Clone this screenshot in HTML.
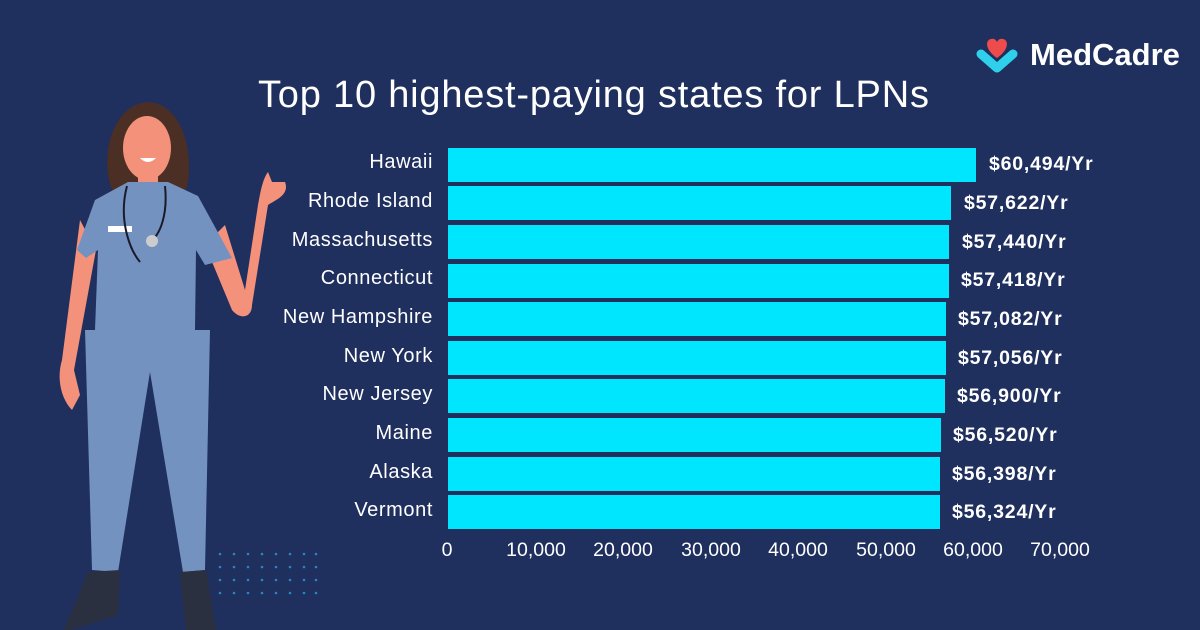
<!DOCTYPE html>
<html><head><meta charset="utf-8"><style>
html,body{margin:0;padding:0}
body{width:1200px;height:630px;background:#1f2f5e;position:relative;overflow:hidden;font-family:"Liberation Sans",sans-serif;color:#fff}
.t{position:absolute;white-space:nowrap}
.lab{position:absolute;right:767px;font-size:20px;letter-spacing:0.6px;text-align:right;white-space:nowrap}
.bar{position:absolute;left:448px;height:34px;background:#00e6ff}
.val{position:absolute;font-size:19.5px;letter-spacing:0.8px;font-weight:bold;white-space:nowrap}
.tick{position:absolute;top:539px;font-size:19.5px;transform:translateX(-50%)}
</style></head><body>
<div class="t" style="left:258px;top:74px;font-size:38px;letter-spacing:0.8px;">Top 10 highest-paying states for LPNs</div>
<svg style="position:absolute;left:975px;top:36px" width="50" height="40" viewBox="0 0 50 40">
<path d="M6 18 L22 32 L38 18" stroke="#2fd0ec" stroke-width="9" fill="none" stroke-linecap="round" stroke-linejoin="round"/>
<path d="M22 22 C10 14 10 4 16 3 C19 2 21 4 22 6 C23 4 25 2 28 3 C34 4 34 14 22 22Z" fill="#ee4c4c"/>
</svg>
<div class="t" style="left:1030px;top:37px;font-size:31px;font-weight:bold;">MedCadre</div>

<svg style="position:absolute;left:0;top:0" width="340" height="630">
<g fill="#2a86c0">
<circle cx="220" cy="554" r="1.3"/><circle cx="234" cy="554" r="1.3"/><circle cx="248" cy="554" r="1.3"/><circle cx="262" cy="554" r="1.3"/><circle cx="276" cy="554" r="1.3"/><circle cx="290" cy="554" r="1.3"/><circle cx="304" cy="554" r="1.3"/><circle cx="316" cy="554" r="1.3"/>
<circle cx="220" cy="567" r="1.3"/><circle cx="234" cy="567" r="1.3"/><circle cx="248" cy="567" r="1.3"/><circle cx="262" cy="567" r="1.3"/><circle cx="276" cy="567" r="1.3"/><circle cx="290" cy="567" r="1.3"/><circle cx="304" cy="567" r="1.3"/><circle cx="316" cy="567" r="1.3"/>
<circle cx="220" cy="580" r="1.3"/><circle cx="234" cy="580" r="1.3"/><circle cx="248" cy="580" r="1.3"/><circle cx="262" cy="580" r="1.3"/><circle cx="276" cy="580" r="1.3"/><circle cx="290" cy="580" r="1.3"/><circle cx="304" cy="580" r="1.3"/><circle cx="316" cy="580" r="1.3"/>
<circle cx="220" cy="593" r="1.3"/><circle cx="234" cy="593" r="1.3"/><circle cx="248" cy="593" r="1.3"/><circle cx="262" cy="593" r="1.3"/><circle cx="276" cy="593" r="1.3"/><circle cx="290" cy="593" r="1.3"/><circle cx="304" cy="593" r="1.3"/><circle cx="316" cy="593" r="1.3"/>
</g>
<path d="M112 190 C100 160 110 105 148 102 C185 104 195 160 186 190 Z" fill="#4b2f24"/>
<path d="M80 220 L62 360 C56 380 62 400 72 410 L80 395 L74 370 L96 250 Z" fill="#f3917a"/>
<path d="M205 245 L232 310 C240 320 252 318 252 305 L268 205 C275 200 290 195 285 182 L272 182 L268 172 C262 180 260 195 258 205 L245 290 L225 225 Z" fill="#f3917a"/>
<ellipse cx="147" cy="148" rx="24" ry="32" fill="#f3917a"/>
<rect x="138" y="170" width="20" height="16" fill="#f3917a"/>
<path d="M140 158 Q148 166 156 158 Z" fill="#fff"/>
<path d="M85 330 L210 330 L205 570 L183 572 L150 372 L118 572 L92 570 Z" fill="#7392c0"/>
<path d="M128 182 L168 182 L198 196 L232 258 L205 265 L196 250 L195 330 L95 330 L98 250 L86 258 L77 250 L95 200 Z" fill="#7392c0"/>
<rect x="108" y="226" width="24" height="6" fill="#fff"/>
<path d="M127 186 C118 220 130 250 140 262 M165 186 C168 215 160 235 150 242" stroke="#1a1a2a" stroke-width="2" fill="none"/>
<circle cx="152" cy="241" r="6" fill="#ccc"/>
<path d="M88 572 L120 570 L118 615 L70 630 L64 630 Z" fill="#2a3040"/>
<path d="M180 572 L206 570 L216 630 L186 630 Z" fill="#2a3040"/>
</svg>

<div class="lab" style="top:151px">Hawaii</div>
<div class="lab" style="top:190px">Rhode Island</div>
<div class="lab" style="top:229px">Massachusetts</div>
<div class="lab" style="top:267px">Connecticut</div>
<div class="lab" style="top:306px">New Hampshire</div>
<div class="lab" style="top:345px">New York</div>
<div class="lab" style="top:383px">New Jersey</div>
<div class="lab" style="top:422px">Maine</div>
<div class="lab" style="top:461px">Alaska</div>
<div class="lab" style="top:499px">Vermont</div>

<div class="bar" style="top:148px;width:528px"></div>
<div class="bar" style="top:186px;width:503px"></div>
<div class="bar" style="top:225px;width:501px"></div>
<div class="bar" style="top:264px;width:501px"></div>
<div class="bar" style="top:302px;width:498px"></div>
<div class="bar" style="top:341px;width:498px"></div>
<div class="bar" style="top:379px;width:497px"></div>
<div class="bar" style="top:418px;width:493px"></div>
<div class="bar" style="top:457px;width:492px"></div>
<div class="bar" style="top:495px;width:492px"></div>

<div class="val" style="left:989px;top:153px">$60,494/Yr</div>
<div class="val" style="left:964px;top:192px">$57,622/Yr</div>
<div class="val" style="left:962px;top:231px">$57,440/Yr</div>
<div class="val" style="left:961px;top:269px">$57,418/Yr</div>
<div class="val" style="left:958px;top:308px">$57,082/Yr</div>
<div class="val" style="left:958px;top:347px">$57,056/Yr</div>
<div class="val" style="left:957px;top:385px">$56,900/Yr</div>
<div class="val" style="left:953px;top:424px">$56,520/Yr</div>
<div class="val" style="left:952px;top:463px">$56,398/Yr</div>
<div class="val" style="left:952px;top:501px">$56,324/Yr</div>

<div class="tick" style="left:447px">0</div>
<div class="tick" style="left:536px">10,000</div>
<div class="tick" style="left:623px">20,000</div>
<div class="tick" style="left:711px">30,000</div>
<div class="tick" style="left:798px">40,000</div>
<div class="tick" style="left:886px">50,000</div>
<div class="tick" style="left:973px">60,000</div>
<div class="tick" style="left:1060px">70,000</div>
</body></html>
